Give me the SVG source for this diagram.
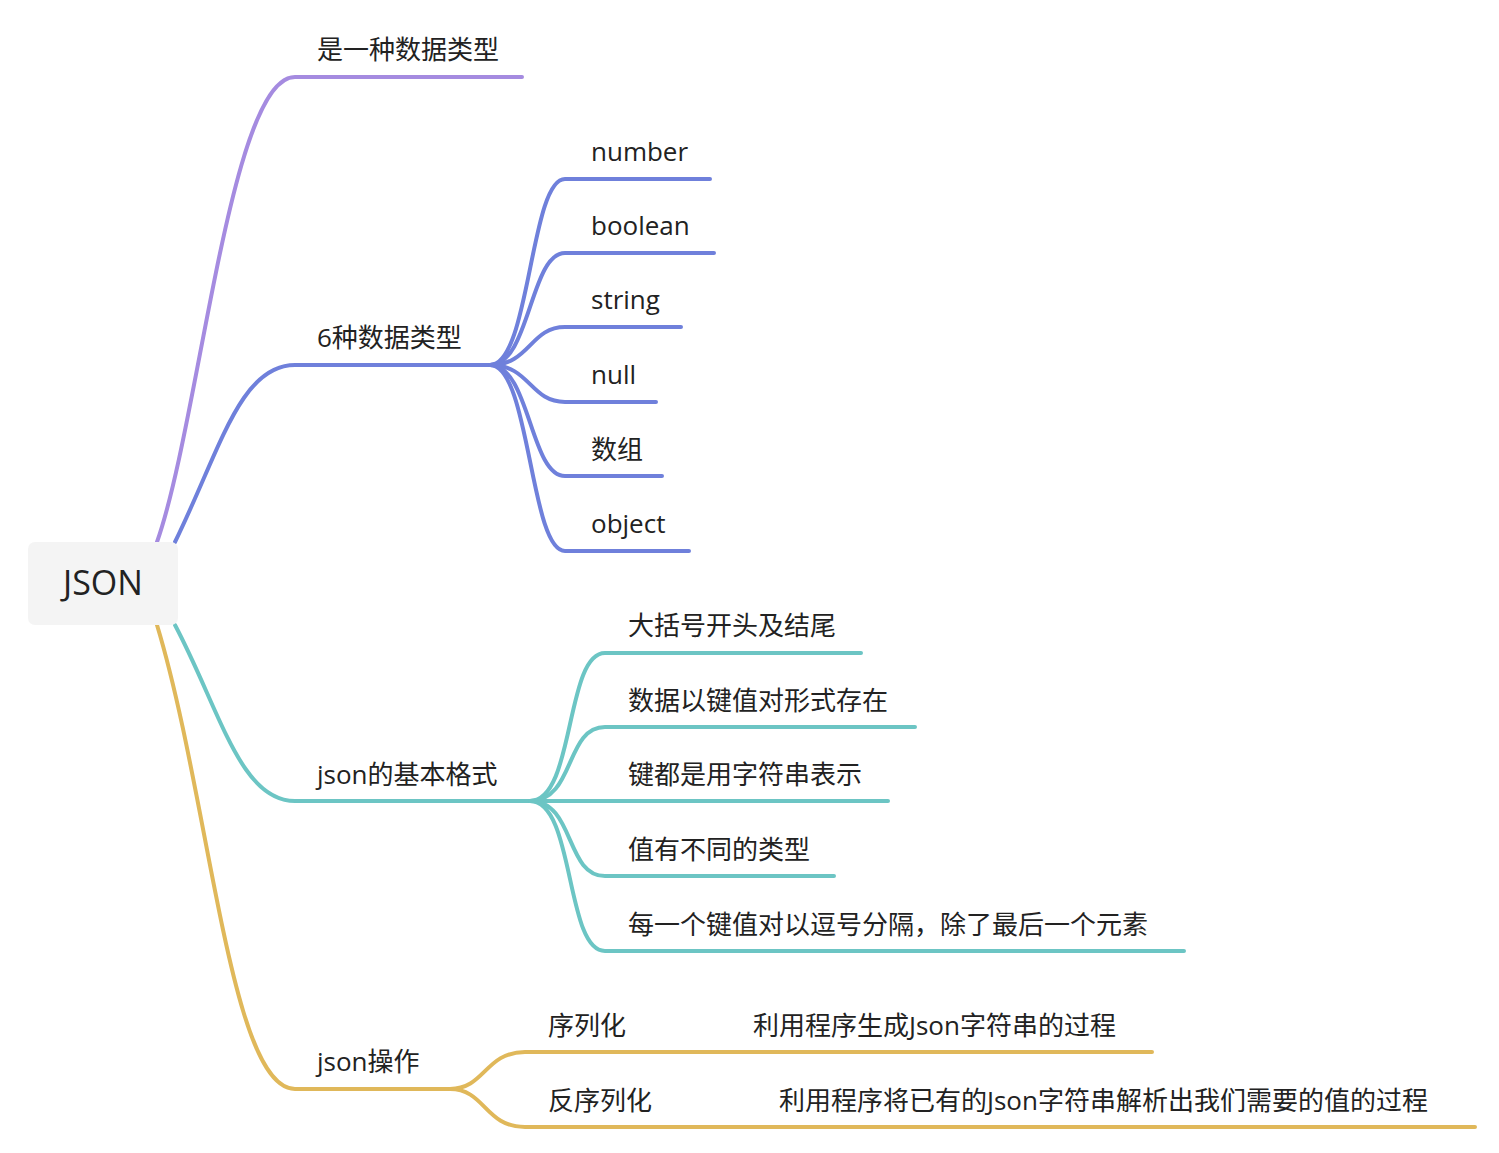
<svg xmlns="http://www.w3.org/2000/svg" width="1499" height="1153" viewBox="0 0 1499 1153">
<style>
.c{fill:none;stroke-width:4;stroke-linecap:round}
.p{stroke:#A58BE0}.b{stroke:#6F80DB}.t{stroke:#6CC5C4}.g{stroke:#E0B85A}
text{font-family:"Open Sans","Noto Sans CJK SC",sans-serif;font-size:26px;fill:#222}
</style>
<rect width="1499" height="1153" fill="#fff"/>
<g id="connectors">
<path class="c p" d="M157,542 C200,420 230,77 295,77 L522,77"/>
<path class="c b" d="M175,542 C220,450 240,365 295,365 L490,365"/>
<path class="c t" d="M175,625 C220,710 240,801 295,801 L530,801"/>
<path class="c g" d="M157,625 C210,800 230,1089 295,1089 L450,1089"/>
<path class="c b" d="M490,365 C530,365 530,179 565,179 L710,179"/>
<path class="c b" d="M490,365 C530,365 530,253 565,253 L714,253"/>
<path class="c b" d="M490,365 C530,365 530,327 565,327 L681,327"/>
<path class="c b" d="M490,365 C530,365 530,402 565,402 L656,402"/>
<path class="c b" d="M490,365 C530,365 530,476 565,476 L662,476"/>
<path class="c b" d="M490,365 C530,365 530,551 565,551 L689,551"/>
<path class="c t" d="M530,801 C575,801 565,653 605,653 L861,653"/>
<path class="c t" d="M530,801 C575,801 565,727 605,727 L915,727"/>
<path class="c t" d="M530,801 L888,801"/>
<path class="c t" d="M530,801 C575,801 565,876 605,876 L834,876"/>
<path class="c t" d="M530,801 C575,801 565,951 605,951 L1184,951"/>
<path class="c g" d="M450,1089 C485,1089 485,1052 525,1052 L1152,1052"/>
<path class="c g" d="M450,1089 C485,1089 485,1127 525,1127 L1475,1127"/>
</g>
<g id="root"><rect x="28" y="542" width="150" height="83" rx="7" fill="#F4F4F4"/><text x="103" y="595" text-anchor="middle" style="font-size:34px">JSON</text></g>
<g id="n1"><text x="317" y="59">是一种数据类型</text></g>
<g id="n2"><text x="317" y="347">6种数据类型</text></g>
<g id="n3"><text x="317" y="784">json的基本格式</text></g>
<g id="n4"><text x="317" y="1071">json操作</text></g>
<g id="b1"><text x="591" y="161">number</text></g>
<g id="b2"><text x="591" y="235">boolean</text></g>
<g id="b3"><text x="591" y="309">string</text></g>
<g id="b4"><text x="591" y="384">null</text></g>
<g id="b5"><text x="591" y="459">数组</text></g>
<g id="b6"><text x="591" y="533">object</text></g>
<g id="t1"><text x="628" y="635">大括号开头及结尾</text></g>
<g id="t2"><text x="628" y="710">数据以键值对形式存在</text></g>
<g id="t3"><text x="628" y="784">键都是用字符串表示</text></g>
<g id="t4"><text x="628" y="859">值有不同的类型</text></g>
<g id="t5"><text x="628" y="934">每一个键值对以逗号分隔，除了最后一个元素</text></g>
<g id="g1"><text x="548" y="1035">序列化</text><text x="753" y="1035">利用程序生成Json字符串的过程</text></g>
<g id="g2"><text x="548" y="1110">反序列化</text><text x="779" y="1110">利用程序将已有的Json字符串解析出我们需要的值的过程</text></g>
</svg>
